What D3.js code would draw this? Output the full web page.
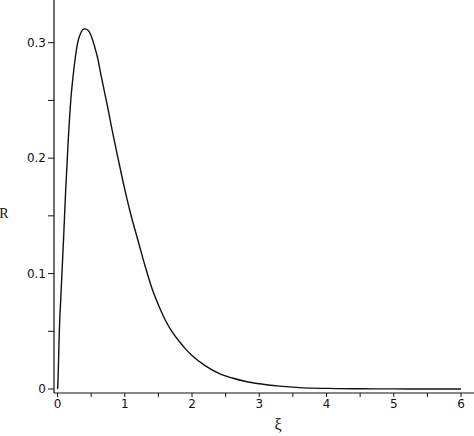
<!DOCTYPE html>
<html><head><meta charset="utf-8">
<script src="https://cdn.jsdelivr.net/npm/d3@7"></script>
<style>html,body{margin:0;padding:0;background:#fff;}svg{display:block;}</style>
</head><body>
<script>
const xi = [0,0.005,0.01,0.02,0.03,0.05,0.07,0.09,0.12,0.16,0.2,0.23,0.26,0.3,0.35,0.4,0.45,0.5,0.55,0.6,0.65,0.7,0.75,0.8,0.9,1.0,1.1,1.2,1.3,1.4,1.5,1.6,1.7,1.8,1.9,2.0,2.2,2.4,2.6,2.8,3.0,3.3,3.6,4.0,4.5,5.0,5.5,6.0];
const R  = [0,0.003,0.012,0.035,0.055,0.08,0.105,0.13,0.17,0.216,0.252,0.27,0.285,0.3,0.309,0.312,0.311,0.306,0.297,0.286,0.271,0.257,0.243,0.228,0.2,0.173,0.149,0.128,0.107,0.088,0.073,0.06,0.05,0.042,0.035,0.029,0.02,0.0135,0.0095,0.0065,0.0045,0.0025,0.0012,0.0005,0.0002,0.0001,0,0];
const xTicks = [0,1,2,3,4,5,6];
const xMinor = [0.5,1.5,2.5,3.5,4.5,5.5];
const yTicks = [0,0.1,0.2,0.3];
const yMinor = [0.05,0.15,0.25];
const xLabel = "ξ", yLabel = "R";

const W = 474, H = 436;
const svg = d3.select("body").append("svg").attr("width", W).attr("height", H);
const x = d3.scaleLinear().domain([0,6]).range([57.5,461]);
const y = d3.scaleLinear().domain([0,0.3]).range([389,42.7]);
const axisX = 54, axisY = 393;
const col = "#111";
const font = "'DejaVu Sans', sans-serif";

svg.append("line").attr("x1",axisX).attr("x2",axisX).attr("y1",0).attr("y2",axisY)
  .attr("stroke",col).attr("stroke-width",1.2);
svg.append("line").attr("x1",axisX).attr("x2",W).attr("y1",axisY).attr("y2",axisY)
  .attr("stroke",col).attr("stroke-width",1.2);

const gy = svg.append("g");
yTicks.concat(yMinor).forEach(v => {
  gy.append("line").attr("x1",axisX-6).attr("x2",axisX).attr("y1",y(v)).attr("y2",y(v))
    .attr("stroke",col).attr("stroke-width",1);
});
yTicks.forEach(v => {
  gy.append("text").attr("x",axisX-8).attr("y",y(v)).attr("dy","0.35em")
    .attr("text-anchor","end").attr("font-family",font).attr("font-size",12).attr("fill",col)
    .text(v===0?"0":d3.format(".1f")(v));
});
const gx = svg.append("g");
xTicks.concat(xMinor).forEach(v => {
  gx.append("line").attr("x1",x(v)).attr("x2",x(v)).attr("y1",axisY).attr("y2",axisY+4)
    .attr("stroke",col).attr("stroke-width",1);
});
xTicks.forEach(v => {
  gx.append("text").attr("x",x(v)).attr("y",axisY+11).attr("dy","0.35em")
    .attr("text-anchor","middle").attr("font-family",font).attr("font-size",12).attr("fill",col)
    .text(String(v));
});
svg.append("text").attr("x",4).attr("y",218).attr("text-anchor","middle")
  .attr("font-family","'Liberation Serif', serif").attr("font-size",14).attr("fill",col).text(yLabel);
svg.append("text").attr("x",278).attr("y",430).attr("text-anchor","middle")
  .attr("font-family","'Liberation Serif', serif").attr("font-size",16).attr("fill",col).text(xLabel);

const data = xi.map((v,i)=>({x:v,r:R[i]}));
svg.append("path").datum(data)
  .attr("d", d3.line().x(d=>x(d.x)).y(d=>y(d.r)).curve(d3.curveMonotoneX))
  .attr("fill","none").attr("stroke",col).attr("stroke-width",1.4);
</script>
</body></html>
